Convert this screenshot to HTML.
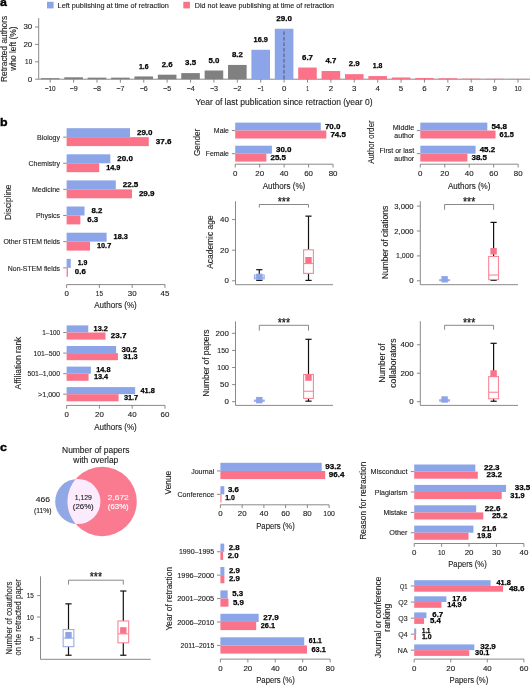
<!DOCTYPE html>
<html lang="en"><head><meta charset="utf-8"><title>Figure</title>
<style>
html,body{margin:0;padding:0;background:#fff;}
body{width:530px;height:685px;overflow:hidden;}
svg{display:block;font-family:"Liberation Sans", sans-serif;}
</style></head><body>
<svg width="530" height="685" viewBox="0 0 530 685">
<rect width="530" height="685" fill="#fff"/>
<text transform="translate(0.00 6.10) scale(1.05 1)" font-size="11.8" text-anchor="start" fill="#000" font-weight="700" stroke="#000" stroke-width="0.4">a</text>
<rect x="47.00" y="1.80" width="6.60" height="6.60" fill="#8ca5e8"/>
<text transform="translate(57.60 7.64) scale(1 1)" font-size="7.1" text-anchor="start" fill="#222" stroke="#222" stroke-width="0.12" textLength="111.3" lengthAdjust="spacingAndGlyphs">Left publishing at time of retraction</text>
<rect x="183.30" y="1.80" width="6.60" height="6.60" fill="#fa7389"/>
<text transform="translate(194.80 7.64) scale(1 1)" font-size="7.1" text-anchor="start" fill="#222" stroke="#222" stroke-width="0.12" textLength="139.2" lengthAdjust="spacingAndGlyphs">Did not leave publishing at time of retraction</text>
<line x1="38.70" y1="18.10" x2="38.70" y2="79.20" stroke="#7c7c7c" stroke-width="0.9" />
<line x1="38.70" y1="79.20" x2="530.00" y2="79.20" stroke="#7c7c7c" stroke-width="0.9" />
<line x1="35.10" y1="79.20" x2="38.70" y2="79.20" stroke="#7c7c7c" stroke-width="0.9" />
<text transform="translate(32.20 81.51) scale(1 1)" font-size="7" text-anchor="end" fill="#222" stroke="#222" stroke-width="0.12" textLength="4.4" lengthAdjust="spacingAndGlyphs">0</text>
<line x1="35.10" y1="61.80" x2="38.70" y2="61.80" stroke="#7c7c7c" stroke-width="0.9" />
<text transform="translate(32.20 64.11) scale(1 1)" font-size="7" text-anchor="end" fill="#222" stroke="#222" stroke-width="0.12" textLength="7.1" lengthAdjust="spacingAndGlyphs">10</text>
<line x1="35.10" y1="44.40" x2="38.70" y2="44.40" stroke="#7c7c7c" stroke-width="0.9" />
<text transform="translate(32.20 46.71) scale(1 1)" font-size="7" text-anchor="end" fill="#222" stroke="#222" stroke-width="0.12" textLength="8.8" lengthAdjust="spacingAndGlyphs">20</text>
<line x1="35.10" y1="27.00" x2="38.70" y2="27.00" stroke="#7c7c7c" stroke-width="0.9" />
<text transform="translate(32.20 29.31) scale(1 1)" font-size="7" text-anchor="end" fill="#222" stroke="#222" stroke-width="0.12" textLength="8.8" lengthAdjust="spacingAndGlyphs">30</text>
<text transform="translate(3.70 48.90) rotate(-90) scale(1 1)" y="3.01" font-size="8.4" text-anchor="middle" fill="#222" stroke="#222" stroke-width="0.12" textLength="66.0" lengthAdjust="spacingAndGlyphs">Retracted authors</text>
<text transform="translate(13.40 48.60) rotate(-90) scale(1 1)" y="3.01" font-size="8.4" text-anchor="middle" fill="#222" stroke="#222" stroke-width="0.12" textLength="44.4" lengthAdjust="spacingAndGlyphs">who left (%)</text>
<rect x="40.90" y="78.16" width="18.60" height="1.04" fill="#808080"/>
<line x1="50.20" y1="79.20" x2="50.20" y2="82.60" stroke="#7c7c7c" stroke-width="0.9" />
<text transform="translate(50.20 90.81) scale(1 1)" font-size="7" text-anchor="middle" fill="#222" stroke="#222" stroke-width="0.12" textLength="10.8" lengthAdjust="spacingAndGlyphs">−10</text>
<rect x="64.29" y="77.29" width="18.60" height="1.91" fill="#808080"/>
<line x1="73.59" y1="79.20" x2="73.59" y2="82.60" stroke="#7c7c7c" stroke-width="0.9" />
<text transform="translate(73.59 90.81) scale(1 1)" font-size="7" text-anchor="middle" fill="#222" stroke="#222" stroke-width="0.12" textLength="8.1" lengthAdjust="spacingAndGlyphs">−9</text>
<rect x="87.68" y="77.63" width="18.60" height="1.57" fill="#808080"/>
<line x1="96.98" y1="79.20" x2="96.98" y2="82.60" stroke="#7c7c7c" stroke-width="0.9" />
<text transform="translate(96.98 90.81) scale(1 1)" font-size="7" text-anchor="middle" fill="#222" stroke="#222" stroke-width="0.12" textLength="8.1" lengthAdjust="spacingAndGlyphs">−8</text>
<rect x="111.07" y="77.63" width="18.60" height="1.57" fill="#808080"/>
<line x1="120.37" y1="79.20" x2="120.37" y2="82.60" stroke="#7c7c7c" stroke-width="0.9" />
<text transform="translate(120.37 90.81) scale(1 1)" font-size="7" text-anchor="middle" fill="#222" stroke="#222" stroke-width="0.12" textLength="8.1" lengthAdjust="spacingAndGlyphs">−7</text>
<rect x="134.46" y="76.42" width="18.60" height="2.78" fill="#808080"/>
<line x1="143.76" y1="79.20" x2="143.76" y2="82.60" stroke="#7c7c7c" stroke-width="0.9" />
<text transform="translate(143.76 90.81) scale(1 1)" font-size="7" text-anchor="middle" fill="#222" stroke="#222" stroke-width="0.12" textLength="8.1" lengthAdjust="spacingAndGlyphs">−6</text>
<text transform="translate(143.76 68.60) scale(1 1)" font-size="7.5" text-anchor="middle" fill="#000" font-weight="700" stroke="#000" stroke-width="0.25" textLength="9.6" lengthAdjust="spacingAndGlyphs">1.6</text>
<rect x="157.85" y="74.68" width="18.60" height="4.52" fill="#808080"/>
<line x1="167.15" y1="79.20" x2="167.15" y2="82.60" stroke="#7c7c7c" stroke-width="0.9" />
<text transform="translate(167.15 90.81) scale(1 1)" font-size="7" text-anchor="middle" fill="#222" stroke="#222" stroke-width="0.12" textLength="8.1" lengthAdjust="spacingAndGlyphs">−5</text>
<text transform="translate(167.15 66.86) scale(1 1)" font-size="7.5" text-anchor="middle" fill="#000" font-weight="700" stroke="#000" stroke-width="0.25" textLength="10.9" lengthAdjust="spacingAndGlyphs">2.6</text>
<rect x="181.24" y="73.11" width="18.60" height="6.09" fill="#808080"/>
<line x1="190.54" y1="79.20" x2="190.54" y2="82.60" stroke="#7c7c7c" stroke-width="0.9" />
<text transform="translate(190.54 90.81) scale(1 1)" font-size="7" text-anchor="middle" fill="#222" stroke="#222" stroke-width="0.12" textLength="8.1" lengthAdjust="spacingAndGlyphs">−4</text>
<text transform="translate(190.54 65.30) scale(1 1)" font-size="7.5" text-anchor="middle" fill="#000" font-weight="700" stroke="#000" stroke-width="0.25" textLength="10.9" lengthAdjust="spacingAndGlyphs">3.5</text>
<rect x="204.63" y="70.50" width="18.60" height="8.70" fill="#808080"/>
<line x1="213.93" y1="79.20" x2="213.93" y2="82.60" stroke="#7c7c7c" stroke-width="0.9" />
<text transform="translate(213.93 90.81) scale(1 1)" font-size="7" text-anchor="middle" fill="#222" stroke="#222" stroke-width="0.12" textLength="8.1" lengthAdjust="spacingAndGlyphs">−3</text>
<text transform="translate(213.93 62.69) scale(1 1)" font-size="7.5" text-anchor="middle" fill="#000" font-weight="700" stroke="#000" stroke-width="0.25" textLength="10.9" lengthAdjust="spacingAndGlyphs">5.0</text>
<rect x="228.02" y="64.93" width="18.60" height="14.27" fill="#808080"/>
<line x1="237.32" y1="79.20" x2="237.32" y2="82.60" stroke="#7c7c7c" stroke-width="0.9" />
<text transform="translate(237.32 90.81) scale(1 1)" font-size="7" text-anchor="middle" fill="#222" stroke="#222" stroke-width="0.12" textLength="8.1" lengthAdjust="spacingAndGlyphs">−2</text>
<text transform="translate(237.32 57.12) scale(1 1)" font-size="7.5" text-anchor="middle" fill="#000" font-weight="700" stroke="#000" stroke-width="0.25" textLength="10.9" lengthAdjust="spacingAndGlyphs">8.2</text>
<rect x="251.41" y="49.79" width="18.60" height="29.41" fill="#8ca5e8"/>
<line x1="260.71" y1="79.20" x2="260.71" y2="82.60" stroke="#7c7c7c" stroke-width="0.9" />
<text transform="translate(260.71 90.81) scale(1 1)" font-size="7" text-anchor="middle" fill="#222" stroke="#222" stroke-width="0.12" textLength="6.4" lengthAdjust="spacingAndGlyphs">−1</text>
<text transform="translate(260.71 41.98) scale(1 1)" font-size="7.5" text-anchor="middle" fill="#000" font-weight="700" stroke="#000" stroke-width="0.25" textLength="14.3" lengthAdjust="spacingAndGlyphs">16.9</text>
<rect x="274.80" y="28.74" width="18.60" height="50.46" fill="#8ca5e8"/>
<line x1="284.10" y1="79.20" x2="284.10" y2="82.60" stroke="#7c7c7c" stroke-width="0.9" />
<text transform="translate(284.10 90.81) scale(1 1)" font-size="7" text-anchor="middle" fill="#222" stroke="#222" stroke-width="0.12" textLength="4.4" lengthAdjust="spacingAndGlyphs">0</text>
<text transform="translate(284.10 20.93) scale(1 1)" font-size="7.5" text-anchor="middle" fill="#000" font-weight="700" stroke="#000" stroke-width="0.25" textLength="15.6" lengthAdjust="spacingAndGlyphs">29.0</text>
<rect x="298.19" y="67.54" width="18.60" height="11.66" fill="#fa7389"/>
<line x1="307.49" y1="79.20" x2="307.49" y2="82.60" stroke="#7c7c7c" stroke-width="0.9" />
<text transform="translate(307.49 90.81) scale(1 1)" font-size="7" text-anchor="middle" fill="#222" stroke="#222" stroke-width="0.12" textLength="2.7" lengthAdjust="spacingAndGlyphs">1</text>
<text transform="translate(307.49 59.73) scale(1 1)" font-size="7.5" text-anchor="middle" fill="#000" font-weight="700" stroke="#000" stroke-width="0.25" textLength="10.9" lengthAdjust="spacingAndGlyphs">6.7</text>
<rect x="321.58" y="71.02" width="18.60" height="8.18" fill="#fa7389"/>
<line x1="330.88" y1="79.20" x2="330.88" y2="82.60" stroke="#7c7c7c" stroke-width="0.9" />
<text transform="translate(330.88 90.81) scale(1 1)" font-size="7" text-anchor="middle" fill="#222" stroke="#222" stroke-width="0.12" textLength="4.4" lengthAdjust="spacingAndGlyphs">2</text>
<text transform="translate(330.88 63.21) scale(1 1)" font-size="7.5" text-anchor="middle" fill="#000" font-weight="700" stroke="#000" stroke-width="0.25" textLength="10.9" lengthAdjust="spacingAndGlyphs">4.7</text>
<rect x="344.97" y="74.15" width="18.60" height="5.05" fill="#fa7389"/>
<line x1="354.27" y1="79.20" x2="354.27" y2="82.60" stroke="#7c7c7c" stroke-width="0.9" />
<text transform="translate(354.27 90.81) scale(1 1)" font-size="7" text-anchor="middle" fill="#222" stroke="#222" stroke-width="0.12" textLength="4.4" lengthAdjust="spacingAndGlyphs">3</text>
<text transform="translate(354.27 66.34) scale(1 1)" font-size="7.5" text-anchor="middle" fill="#000" font-weight="700" stroke="#000" stroke-width="0.25" textLength="10.9" lengthAdjust="spacingAndGlyphs">2.9</text>
<rect x="368.36" y="76.07" width="18.60" height="3.13" fill="#fa7389"/>
<line x1="377.66" y1="79.20" x2="377.66" y2="82.60" stroke="#7c7c7c" stroke-width="0.9" />
<text transform="translate(377.66 90.81) scale(1 1)" font-size="7" text-anchor="middle" fill="#222" stroke="#222" stroke-width="0.12" textLength="4.4" lengthAdjust="spacingAndGlyphs">4</text>
<text transform="translate(377.66 68.25) scale(1 1)" font-size="7.5" text-anchor="middle" fill="#000" font-weight="700" stroke="#000" stroke-width="0.25" textLength="9.6" lengthAdjust="spacingAndGlyphs">1.8</text>
<rect x="391.75" y="77.46" width="18.60" height="1.74" fill="#fa7389"/>
<line x1="401.05" y1="79.20" x2="401.05" y2="82.60" stroke="#7c7c7c" stroke-width="0.9" />
<text transform="translate(401.05 90.81) scale(1 1)" font-size="7" text-anchor="middle" fill="#222" stroke="#222" stroke-width="0.12" textLength="4.4" lengthAdjust="spacingAndGlyphs">5</text>
<rect x="415.14" y="77.98" width="18.60" height="1.22" fill="#fa7389"/>
<line x1="424.44" y1="79.20" x2="424.44" y2="82.60" stroke="#7c7c7c" stroke-width="0.9" />
<text transform="translate(424.44 90.81) scale(1 1)" font-size="7" text-anchor="middle" fill="#222" stroke="#222" stroke-width="0.12" textLength="4.4" lengthAdjust="spacingAndGlyphs">6</text>
<rect x="438.53" y="78.24" width="18.60" height="0.96" fill="#fa7389"/>
<line x1="447.83" y1="79.20" x2="447.83" y2="82.60" stroke="#7c7c7c" stroke-width="0.9" />
<text transform="translate(447.83 90.81) scale(1 1)" font-size="7" text-anchor="middle" fill="#222" stroke="#222" stroke-width="0.12" textLength="4.4" lengthAdjust="spacingAndGlyphs">7</text>
<rect x="461.92" y="78.68" width="18.60" height="0.52" fill="#fa7389"/>
<line x1="471.22" y1="79.20" x2="471.22" y2="82.60" stroke="#7c7c7c" stroke-width="0.9" />
<text transform="translate(471.22 90.81) scale(1 1)" font-size="7" text-anchor="middle" fill="#222" stroke="#222" stroke-width="0.12" textLength="4.4" lengthAdjust="spacingAndGlyphs">8</text>
<rect x="485.31" y="78.82" width="18.60" height="0.38" fill="#fa7389"/>
<line x1="494.61" y1="79.20" x2="494.61" y2="82.60" stroke="#7c7c7c" stroke-width="0.9" />
<text transform="translate(494.61 90.81) scale(1 1)" font-size="7" text-anchor="middle" fill="#222" stroke="#222" stroke-width="0.12" textLength="4.4" lengthAdjust="spacingAndGlyphs">9</text>
<rect x="508.70" y="78.89" width="18.60" height="0.31" fill="#fa7389"/>
<line x1="518.00" y1="79.20" x2="518.00" y2="82.60" stroke="#7c7c7c" stroke-width="0.9" />
<text transform="translate(518.00 90.81) scale(1 1)" font-size="7" text-anchor="middle" fill="#222" stroke="#222" stroke-width="0.12" textLength="7.1" lengthAdjust="spacingAndGlyphs">10</text>
<line x1="284.00" y1="31.40" x2="284.00" y2="79.20" stroke="#4d5575" stroke-width="1.0" stroke-dasharray="3.7 1.8"/>
<text transform="translate(284.10 104.54) scale(1 1)" font-size="8.5" text-anchor="middle" fill="#222" stroke="#222" stroke-width="0.12" textLength="177" lengthAdjust="spacingAndGlyphs">Year of last publication since retraction (year 0)</text>
<text transform="translate(0.00 126.00) scale(1.05 1)" font-size="11.8" text-anchor="start" fill="#000" font-weight="700" stroke="#000" stroke-width="0.4">b</text>
<rect x="66.60" y="128.20" width="63.39" height="8.95" fill="#8ca5e8"/>
<rect x="66.60" y="137.15" width="82.19" height="8.95" fill="#fa7389"/>
<line x1="63.20" y1="137.15" x2="66.60" y2="137.15" stroke="#7c7c7c" stroke-width="0.9" />
<text transform="translate(136.95 134.66) scale(1 1)" font-size="7.5" text-anchor="start" fill="#000" font-weight="700" stroke="#000" stroke-width="0.25" textLength="15.6" lengthAdjust="spacingAndGlyphs">29.0</text>
<text transform="translate(155.75 143.61) scale(1 1)" font-size="7.5" text-anchor="start" fill="#000" font-weight="700" stroke="#000" stroke-width="0.25" textLength="15.6" lengthAdjust="spacingAndGlyphs">37.6</text>
<text transform="translate(60.00 139.86) scale(1 1)" font-size="7" text-anchor="end" fill="#222" stroke="#222" stroke-width="0.12">Biology</text>
<rect x="66.60" y="154.30" width="43.72" height="8.95" fill="#8ca5e8"/>
<rect x="66.60" y="163.25" width="32.57" height="8.95" fill="#fa7389"/>
<line x1="63.20" y1="163.25" x2="66.60" y2="163.25" stroke="#7c7c7c" stroke-width="0.9" />
<text transform="translate(117.28 160.76) scale(1 1)" font-size="7.5" text-anchor="start" fill="#000" font-weight="700" stroke="#000" stroke-width="0.25" textLength="15.6" lengthAdjust="spacingAndGlyphs">20.0</text>
<text transform="translate(106.13 169.71) scale(1 1)" font-size="7.5" text-anchor="start" fill="#000" font-weight="700" stroke="#000" stroke-width="0.25" textLength="14.3" lengthAdjust="spacingAndGlyphs">14.9</text>
<text transform="translate(60.00 165.96) scale(1 1)" font-size="7" text-anchor="end" fill="#222" stroke="#222" stroke-width="0.12">Chemistry</text>
<rect x="66.60" y="180.40" width="49.19" height="8.95" fill="#8ca5e8"/>
<rect x="66.60" y="189.35" width="65.36" height="8.95" fill="#fa7389"/>
<line x1="63.20" y1="189.35" x2="66.60" y2="189.35" stroke="#7c7c7c" stroke-width="0.9" />
<text transform="translate(122.74 186.86) scale(1 1)" font-size="7.5" text-anchor="start" fill="#000" font-weight="700" stroke="#000" stroke-width="0.25" textLength="15.6" lengthAdjust="spacingAndGlyphs">22.5</text>
<text transform="translate(138.92 195.81) scale(1 1)" font-size="7.5" text-anchor="start" fill="#000" font-weight="700" stroke="#000" stroke-width="0.25" textLength="15.6" lengthAdjust="spacingAndGlyphs">29.9</text>
<text transform="translate(60.00 192.06) scale(1 1)" font-size="7" text-anchor="end" fill="#222" stroke="#222" stroke-width="0.12">Medicine</text>
<rect x="66.60" y="206.50" width="17.93" height="8.95" fill="#8ca5e8"/>
<rect x="66.60" y="215.45" width="13.77" height="8.95" fill="#fa7389"/>
<line x1="63.20" y1="215.45" x2="66.60" y2="215.45" stroke="#7c7c7c" stroke-width="0.9" />
<text transform="translate(91.48 212.96) scale(1 1)" font-size="7.5" text-anchor="start" fill="#000" font-weight="700" stroke="#000" stroke-width="0.25" textLength="10.9" lengthAdjust="spacingAndGlyphs">8.2</text>
<text transform="translate(87.33 221.91) scale(1 1)" font-size="7.5" text-anchor="start" fill="#000" font-weight="700" stroke="#000" stroke-width="0.25" textLength="10.9" lengthAdjust="spacingAndGlyphs">6.3</text>
<text transform="translate(60.00 218.16) scale(1 1)" font-size="7" text-anchor="end" fill="#222" stroke="#222" stroke-width="0.12">Physics</text>
<rect x="66.60" y="232.70" width="40.00" height="8.95" fill="#8ca5e8"/>
<rect x="66.60" y="241.65" width="23.39" height="8.95" fill="#fa7389"/>
<line x1="63.20" y1="241.65" x2="66.60" y2="241.65" stroke="#7c7c7c" stroke-width="0.9" />
<text transform="translate(113.56 239.16) scale(1 1)" font-size="7.5" text-anchor="start" fill="#000" font-weight="700" stroke="#000" stroke-width="0.25" textLength="14.3" lengthAdjust="spacingAndGlyphs">18.3</text>
<text transform="translate(96.95 248.11) scale(1 1)" font-size="7.5" text-anchor="start" fill="#000" font-weight="700" stroke="#000" stroke-width="0.25" textLength="14.3" lengthAdjust="spacingAndGlyphs">10.7</text>
<text transform="translate(60.00 244.36) scale(1 1)" font-size="7" text-anchor="end" fill="#222" stroke="#222" stroke-width="0.12" textLength="56.6" lengthAdjust="spacingAndGlyphs">Other STEM fields</text>
<rect x="66.60" y="258.90" width="4.15" height="8.95" fill="#8ca5e8"/>
<rect x="66.60" y="267.85" width="1.31" height="8.95" fill="#fa7389"/>
<line x1="63.20" y1="267.85" x2="66.60" y2="267.85" stroke="#7c7c7c" stroke-width="0.9" />
<text transform="translate(77.71 265.36) scale(1 1)" font-size="7.5" text-anchor="start" fill="#000" font-weight="700" stroke="#000" stroke-width="0.25" textLength="9.6" lengthAdjust="spacingAndGlyphs">1.9</text>
<text transform="translate(74.87 274.31) scale(1 1)" font-size="7.5" text-anchor="start" fill="#000" font-weight="700" stroke="#000" stroke-width="0.25" textLength="10.9" lengthAdjust="spacingAndGlyphs">0.6</text>
<text transform="translate(60.00 270.56) scale(1 1)" font-size="7" text-anchor="end" fill="#222" stroke="#222" stroke-width="0.12" textLength="52.2" lengthAdjust="spacingAndGlyphs">Non-STEM fields</text>
<line x1="66.60" y1="284.60" x2="164.97" y2="284.60" stroke="#7c7c7c" stroke-width="0.9" />
<line x1="66.60" y1="284.60" x2="66.60" y2="287.90" stroke="#7c7c7c" stroke-width="0.9" />
<text transform="translate(66.60 296.31) scale(1 1)" font-size="7" text-anchor="middle" fill="#222" stroke="#222" stroke-width="0.12" textLength="4.4" lengthAdjust="spacingAndGlyphs">0</text>
<line x1="99.39" y1="284.60" x2="99.39" y2="287.90" stroke="#7c7c7c" stroke-width="0.9" />
<text transform="translate(99.39 296.31) scale(1 1)" font-size="7" text-anchor="middle" fill="#222" stroke="#222" stroke-width="0.12" textLength="7.1" lengthAdjust="spacingAndGlyphs">15</text>
<line x1="132.18" y1="284.60" x2="132.18" y2="287.90" stroke="#7c7c7c" stroke-width="0.9" />
<text transform="translate(132.18 296.31) scale(1 1)" font-size="7" text-anchor="middle" fill="#222" stroke="#222" stroke-width="0.12" textLength="8.8" lengthAdjust="spacingAndGlyphs">30</text>
<line x1="164.97" y1="284.60" x2="164.97" y2="287.90" stroke="#7c7c7c" stroke-width="0.9" />
<text transform="translate(164.97 296.31) scale(1 1)" font-size="7" text-anchor="middle" fill="#222" stroke="#222" stroke-width="0.12" textLength="8.8" lengthAdjust="spacingAndGlyphs">45</text>
<text transform="translate(115.50 308.14) scale(1 1)" font-size="8.5" text-anchor="middle" fill="#222" stroke="#222" stroke-width="0.12" textLength="42.5" lengthAdjust="spacingAndGlyphs">Authors (%)</text>
<text transform="translate(8.00 202.30) rotate(-90) scale(1 1)" y="3.01" font-size="8.4" text-anchor="middle" fill="#222" stroke="#222" stroke-width="0.12" textLength="35.5" lengthAdjust="spacingAndGlyphs">Discipline</text>
<rect x="66.60" y="325.40" width="21.65" height="7.10" fill="#8ca5e8"/>
<rect x="66.60" y="332.50" width="38.87" height="7.10" fill="#fa7389"/>
<line x1="63.20" y1="332.50" x2="66.60" y2="332.50" stroke="#7c7c7c" stroke-width="0.9" />
<text transform="translate(93.57 330.94) scale(1 1)" font-size="7.5" text-anchor="start" fill="#000" font-weight="700" stroke="#000" stroke-width="0.25" textLength="14.3" lengthAdjust="spacingAndGlyphs">13.2</text>
<text transform="translate(110.79 338.03) scale(1 1)" font-size="7.5" text-anchor="start" fill="#000" font-weight="700" stroke="#000" stroke-width="0.25" textLength="15.6" lengthAdjust="spacingAndGlyphs">23.7</text>
<text transform="translate(60.00 335.21) scale(1 1)" font-size="7" text-anchor="end" fill="#222" stroke="#222" stroke-width="0.12" textLength="17.7" lengthAdjust="spacingAndGlyphs">1–100</text>
<rect x="66.60" y="346.00" width="49.53" height="7.10" fill="#8ca5e8"/>
<rect x="66.60" y="353.10" width="51.33" height="7.10" fill="#fa7389"/>
<line x1="63.20" y1="353.10" x2="66.60" y2="353.10" stroke="#7c7c7c" stroke-width="0.9" />
<text transform="translate(121.45 351.54) scale(1 1)" font-size="7.5" text-anchor="start" fill="#000" font-weight="700" stroke="#000" stroke-width="0.25" textLength="15.6" lengthAdjust="spacingAndGlyphs">30.2</text>
<text transform="translate(123.25 358.63) scale(1 1)" font-size="7.5" text-anchor="start" fill="#000" font-weight="700" stroke="#000" stroke-width="0.25" textLength="14.3" lengthAdjust="spacingAndGlyphs">31.3</text>
<text transform="translate(60.00 355.81) scale(1 1)" font-size="7" text-anchor="end" fill="#222" stroke="#222" stroke-width="0.12" textLength="26.5" lengthAdjust="spacingAndGlyphs">101–500</text>
<rect x="66.60" y="366.60" width="24.27" height="7.10" fill="#8ca5e8"/>
<rect x="66.60" y="373.70" width="21.98" height="7.10" fill="#fa7389"/>
<line x1="63.20" y1="373.70" x2="66.60" y2="373.70" stroke="#7c7c7c" stroke-width="0.9" />
<text transform="translate(96.19 372.14) scale(1 1)" font-size="7.5" text-anchor="start" fill="#000" font-weight="700" stroke="#000" stroke-width="0.25" textLength="14.3" lengthAdjust="spacingAndGlyphs">14.8</text>
<text transform="translate(93.90 379.24) scale(1 1)" font-size="7.5" text-anchor="start" fill="#000" font-weight="700" stroke="#000" stroke-width="0.25" textLength="14.3" lengthAdjust="spacingAndGlyphs">13.4</text>
<text transform="translate(60.00 376.41) scale(1 1)" font-size="7" text-anchor="end" fill="#222" stroke="#222" stroke-width="0.12" textLength="32.6" lengthAdjust="spacingAndGlyphs">501–1,000</text>
<rect x="66.60" y="387.10" width="68.55" height="7.10" fill="#8ca5e8"/>
<rect x="66.60" y="394.20" width="51.99" height="7.10" fill="#fa7389"/>
<line x1="63.20" y1="394.20" x2="66.60" y2="394.20" stroke="#7c7c7c" stroke-width="0.9" />
<text transform="translate(140.47 392.64) scale(1 1)" font-size="7.5" text-anchor="start" fill="#000" font-weight="700" stroke="#000" stroke-width="0.25" textLength="14.3" lengthAdjust="spacingAndGlyphs">41.8</text>
<text transform="translate(123.91 399.74) scale(1 1)" font-size="7.5" text-anchor="start" fill="#000" font-weight="700" stroke="#000" stroke-width="0.25" textLength="14.3" lengthAdjust="spacingAndGlyphs">31.7</text>
<text transform="translate(60.00 396.91) scale(1 1)" font-size="7" text-anchor="end" fill="#222" stroke="#222" stroke-width="0.12" textLength="21.9" lengthAdjust="spacingAndGlyphs">&gt;1,000</text>
<line x1="66.60" y1="405.40" x2="165.00" y2="405.40" stroke="#7c7c7c" stroke-width="0.9" />
<line x1="66.60" y1="405.40" x2="66.60" y2="408.70" stroke="#7c7c7c" stroke-width="0.9" />
<text transform="translate(66.60 416.91) scale(1 1)" font-size="7" text-anchor="middle" fill="#222" stroke="#222" stroke-width="0.12" textLength="4.4" lengthAdjust="spacingAndGlyphs">0</text>
<line x1="99.40" y1="405.40" x2="99.40" y2="408.70" stroke="#7c7c7c" stroke-width="0.9" />
<text transform="translate(99.40 416.91) scale(1 1)" font-size="7" text-anchor="middle" fill="#222" stroke="#222" stroke-width="0.12" textLength="8.8" lengthAdjust="spacingAndGlyphs">20</text>
<line x1="132.20" y1="405.40" x2="132.20" y2="408.70" stroke="#7c7c7c" stroke-width="0.9" />
<text transform="translate(132.20 416.91) scale(1 1)" font-size="7" text-anchor="middle" fill="#222" stroke="#222" stroke-width="0.12" textLength="8.8" lengthAdjust="spacingAndGlyphs">40</text>
<line x1="165.00" y1="405.40" x2="165.00" y2="408.70" stroke="#7c7c7c" stroke-width="0.9" />
<text transform="translate(165.00 416.91) scale(1 1)" font-size="7" text-anchor="middle" fill="#222" stroke="#222" stroke-width="0.12" textLength="8.8" lengthAdjust="spacingAndGlyphs">60</text>
<text transform="translate(115.50 429.54) scale(1 1)" font-size="8.5" text-anchor="middle" fill="#222" stroke="#222" stroke-width="0.12" textLength="42.5" lengthAdjust="spacingAndGlyphs">Authors (%)</text>
<text transform="translate(18.40 363.10) rotate(-90) scale(1 1)" y="3.01" font-size="8.4" text-anchor="middle" fill="#222" stroke="#222" stroke-width="0.12" textLength="52.8" lengthAdjust="spacingAndGlyphs">Affiliation rank</text>
<rect x="235.20" y="122.60" width="85.61" height="7.95" fill="#8ca5e8"/>
<rect x="235.20" y="130.55" width="91.11" height="7.95" fill="#fa7389"/>
<line x1="231.80" y1="130.55" x2="235.20" y2="130.55" stroke="#7c7c7c" stroke-width="0.9" />
<text transform="translate(324.88 128.56) scale(1 1)" font-size="7.5" text-anchor="start" fill="#000" font-weight="700" stroke="#000" stroke-width="0.25" textLength="15.6" lengthAdjust="spacingAndGlyphs">70.0</text>
<text transform="translate(330.38 136.51) scale(1 1)" font-size="7.5" text-anchor="start" fill="#000" font-weight="700" stroke="#000" stroke-width="0.25" textLength="15.6" lengthAdjust="spacingAndGlyphs">74.5</text>
<text transform="translate(229.00 133.26) scale(1 1)" font-size="7" text-anchor="end" fill="#222" stroke="#222" stroke-width="0.12">Male</text>
<rect x="235.20" y="145.70" width="36.69" height="7.95" fill="#8ca5e8"/>
<rect x="235.20" y="153.65" width="31.19" height="7.95" fill="#fa7389"/>
<line x1="231.80" y1="153.65" x2="235.20" y2="153.65" stroke="#7c7c7c" stroke-width="0.9" />
<text transform="translate(275.96 151.66) scale(1 1)" font-size="7.5" text-anchor="start" fill="#000" font-weight="700" stroke="#000" stroke-width="0.25" textLength="15.6" lengthAdjust="spacingAndGlyphs">30.0</text>
<text transform="translate(270.46 159.61) scale(1 1)" font-size="7.5" text-anchor="start" fill="#000" font-weight="700" stroke="#000" stroke-width="0.25" textLength="15.6" lengthAdjust="spacingAndGlyphs">25.5</text>
<text transform="translate(229.00 156.36) scale(1 1)" font-size="7" text-anchor="end" fill="#222" stroke="#222" stroke-width="0.12">Female</text>
<line x1="235.20" y1="164.20" x2="333.04" y2="164.20" stroke="#7c7c7c" stroke-width="0.9" />
<line x1="235.20" y1="164.20" x2="235.20" y2="167.50" stroke="#7c7c7c" stroke-width="0.9" />
<text transform="translate(235.20 175.81) scale(1 1)" font-size="7" text-anchor="middle" fill="#222" stroke="#222" stroke-width="0.12" textLength="4.4" lengthAdjust="spacingAndGlyphs">0</text>
<line x1="259.66" y1="164.20" x2="259.66" y2="167.50" stroke="#7c7c7c" stroke-width="0.9" />
<text transform="translate(259.66 175.81) scale(1 1)" font-size="7" text-anchor="middle" fill="#222" stroke="#222" stroke-width="0.12" textLength="8.8" lengthAdjust="spacingAndGlyphs">20</text>
<line x1="284.12" y1="164.20" x2="284.12" y2="167.50" stroke="#7c7c7c" stroke-width="0.9" />
<text transform="translate(284.12 175.81) scale(1 1)" font-size="7" text-anchor="middle" fill="#222" stroke="#222" stroke-width="0.12" textLength="8.8" lengthAdjust="spacingAndGlyphs">40</text>
<line x1="308.58" y1="164.20" x2="308.58" y2="167.50" stroke="#7c7c7c" stroke-width="0.9" />
<text transform="translate(308.58 175.81) scale(1 1)" font-size="7" text-anchor="middle" fill="#222" stroke="#222" stroke-width="0.12" textLength="8.8" lengthAdjust="spacingAndGlyphs">60</text>
<line x1="333.04" y1="164.20" x2="333.04" y2="167.50" stroke="#7c7c7c" stroke-width="0.9" />
<text transform="translate(333.04 175.81) scale(1 1)" font-size="7" text-anchor="middle" fill="#222" stroke="#222" stroke-width="0.12" textLength="8.8" lengthAdjust="spacingAndGlyphs">80</text>
<text transform="translate(284.00 188.64) scale(1 1)" font-size="8.5" text-anchor="middle" fill="#222" stroke="#222" stroke-width="0.12" textLength="42.5" lengthAdjust="spacingAndGlyphs">Authors (%)</text>
<text transform="translate(197.10 142.40) rotate(-90) scale(1 1)" y="3.01" font-size="8.4" text-anchor="middle" fill="#222" stroke="#222" stroke-width="0.12" textLength="27.3" lengthAdjust="spacingAndGlyphs">Gender</text>
<rect x="420.30" y="122.60" width="67.02" height="7.95" fill="#8ca5e8"/>
<rect x="420.30" y="130.55" width="75.21" height="7.95" fill="#fa7389"/>
<line x1="416.90" y1="130.55" x2="420.30" y2="130.55" stroke="#7c7c7c" stroke-width="0.9" />
<text transform="translate(491.39 128.56) scale(1 1)" font-size="7.5" text-anchor="start" fill="#000" font-weight="700" stroke="#000" stroke-width="0.25" textLength="15.6" lengthAdjust="spacingAndGlyphs">54.8</text>
<text transform="translate(499.58 136.51) scale(1 1)" font-size="7.5" text-anchor="start" fill="#000" font-weight="700" stroke="#000" stroke-width="0.25" textLength="14.3" lengthAdjust="spacingAndGlyphs">61.5</text>
<text transform="translate(414.20 129.96) scale(1 1)" font-size="7" text-anchor="end" fill="#222" stroke="#222" stroke-width="0.12" textLength="21.4" lengthAdjust="spacingAndGlyphs">Middle</text>
<text transform="translate(414.20 138.16) scale(1 1)" font-size="7" text-anchor="end" fill="#222" stroke="#222" stroke-width="0.12">author</text>
<rect x="420.30" y="145.70" width="55.28" height="7.95" fill="#8ca5e8"/>
<rect x="420.30" y="153.65" width="47.09" height="7.95" fill="#fa7389"/>
<line x1="416.90" y1="153.65" x2="420.30" y2="153.65" stroke="#7c7c7c" stroke-width="0.9" />
<text transform="translate(479.65 151.66) scale(1 1)" font-size="7.5" text-anchor="start" fill="#000" font-weight="700" stroke="#000" stroke-width="0.25" textLength="15.6" lengthAdjust="spacingAndGlyphs">45.2</text>
<text transform="translate(471.45 159.61) scale(1 1)" font-size="7.5" text-anchor="start" fill="#000" font-weight="700" stroke="#000" stroke-width="0.25" textLength="15.6" lengthAdjust="spacingAndGlyphs">38.5</text>
<text transform="translate(414.20 153.06) scale(1 1)" font-size="7" text-anchor="end" fill="#222" stroke="#222" stroke-width="0.12">First or last</text>
<text transform="translate(414.20 161.26) scale(1 1)" font-size="7" text-anchor="end" fill="#222" stroke="#222" stroke-width="0.12">author</text>
<line x1="420.30" y1="164.20" x2="518.14" y2="164.20" stroke="#7c7c7c" stroke-width="0.9" />
<line x1="420.30" y1="164.20" x2="420.30" y2="167.50" stroke="#7c7c7c" stroke-width="0.9" />
<text transform="translate(420.30 175.81) scale(1 1)" font-size="7" text-anchor="middle" fill="#222" stroke="#222" stroke-width="0.12" textLength="4.4" lengthAdjust="spacingAndGlyphs">0</text>
<line x1="444.76" y1="164.20" x2="444.76" y2="167.50" stroke="#7c7c7c" stroke-width="0.9" />
<text transform="translate(444.76 175.81) scale(1 1)" font-size="7" text-anchor="middle" fill="#222" stroke="#222" stroke-width="0.12" textLength="8.8" lengthAdjust="spacingAndGlyphs">20</text>
<line x1="469.22" y1="164.20" x2="469.22" y2="167.50" stroke="#7c7c7c" stroke-width="0.9" />
<text transform="translate(469.22 175.81) scale(1 1)" font-size="7" text-anchor="middle" fill="#222" stroke="#222" stroke-width="0.12" textLength="8.8" lengthAdjust="spacingAndGlyphs">40</text>
<line x1="493.68" y1="164.20" x2="493.68" y2="167.50" stroke="#7c7c7c" stroke-width="0.9" />
<text transform="translate(493.68 175.81) scale(1 1)" font-size="7" text-anchor="middle" fill="#222" stroke="#222" stroke-width="0.12" textLength="8.8" lengthAdjust="spacingAndGlyphs">60</text>
<line x1="518.14" y1="164.20" x2="518.14" y2="167.50" stroke="#7c7c7c" stroke-width="0.9" />
<text transform="translate(518.14 175.81) scale(1 1)" font-size="7" text-anchor="middle" fill="#222" stroke="#222" stroke-width="0.12" textLength="8.8" lengthAdjust="spacingAndGlyphs">80</text>
<text transform="translate(469.20 188.64) scale(1 1)" font-size="8.5" text-anchor="middle" fill="#222" stroke="#222" stroke-width="0.12" textLength="42.5" lengthAdjust="spacingAndGlyphs">Authors (%)</text>
<text transform="translate(371.20 142.10) rotate(-90) scale(1 1)" y="3.01" font-size="8.4" text-anchor="middle" fill="#222" stroke="#222" stroke-width="0.12" textLength="43.3" lengthAdjust="spacingAndGlyphs">Author order</text>
<line x1="235.50" y1="201.20" x2="235.50" y2="284.70" stroke="#7c7c7c" stroke-width="0.9" />
<line x1="235.50" y1="284.70" x2="333.00" y2="284.70" stroke="#7c7c7c" stroke-width="0.9" />
<line x1="232.10" y1="280.80" x2="235.50" y2="280.80" stroke="#7c7c7c" stroke-width="0.9" />
<text transform="translate(228.80 283.31) scale(1 1)" font-size="7" text-anchor="end" fill="#222" stroke="#222" stroke-width="0.12" textLength="4.4" lengthAdjust="spacingAndGlyphs">0</text>
<line x1="232.10" y1="250.20" x2="235.50" y2="250.20" stroke="#7c7c7c" stroke-width="0.9" />
<text transform="translate(228.80 252.71) scale(1 1)" font-size="7" text-anchor="end" fill="#222" stroke="#222" stroke-width="0.12" textLength="8.8" lengthAdjust="spacingAndGlyphs">20</text>
<line x1="232.10" y1="219.60" x2="235.50" y2="219.60" stroke="#7c7c7c" stroke-width="0.9" />
<text transform="translate(228.80 222.11) scale(1 1)" font-size="7" text-anchor="end" fill="#222" stroke="#222" stroke-width="0.12" textLength="8.8" lengthAdjust="spacingAndGlyphs">40</text>
<path d="M259.30 207.60V204.50H308.50V207.60" fill="none" stroke="#6a6a6a" stroke-width="0.8"/>
<text transform="translate(283.90 205.90) scale(0.88 1)" font-size="12" text-anchor="middle" fill="#111" stroke="#111" stroke-width="0.2">***</text>
<line x1="259.30" y1="269.69" x2="259.30" y2="275.04" stroke="#111" stroke-width="1.2" />
<line x1="256.20" y1="269.69" x2="262.40" y2="269.69" stroke="#111" stroke-width="1.2" />
<line x1="259.30" y1="278.87" x2="259.30" y2="280.40" stroke="#111" stroke-width="1.2" />
<line x1="256.20" y1="280.40" x2="262.40" y2="280.40" stroke="#111" stroke-width="1.2" />
<rect x="254.40" y="275.04" width="9.80" height="3.83" fill="#fff" stroke="#9aade9" stroke-width="1.1"/>
<line x1="254.40" y1="277.34" x2="264.20" y2="277.34" stroke="#9aade9" stroke-width="1.1" />
<rect x="256.10" y="273.68" width="6.40" height="6.40" fill="#8ca5e8"/>
<line x1="308.50" y1="216.14" x2="308.50" y2="249.80" stroke="#111" stroke-width="1.2" />
<line x1="305.40" y1="216.14" x2="311.60" y2="216.14" stroke="#111" stroke-width="1.2" />
<line x1="308.50" y1="273.36" x2="308.50" y2="280.40" stroke="#111" stroke-width="1.2" />
<line x1="305.40" y1="280.40" x2="311.60" y2="280.40" stroke="#111" stroke-width="1.2" />
<rect x="303.60" y="249.80" width="9.80" height="23.56" fill="#fff" stroke="#f98699" stroke-width="1.1"/>
<line x1="303.60" y1="263.57" x2="313.40" y2="263.57" stroke="#f98699" stroke-width="1.1" />
<rect x="305.30" y="257.00" width="6.40" height="6.40" fill="#fa7389"/>
<text transform="translate(209.60 242.10) rotate(-90) scale(1 1)" y="3.01" font-size="8.4" text-anchor="middle" fill="#222" stroke="#222" stroke-width="0.12" textLength="53.3" lengthAdjust="spacingAndGlyphs">Academic age</text>
<line x1="420.30" y1="201.20" x2="420.30" y2="284.70" stroke="#7c7c7c" stroke-width="0.9" />
<line x1="420.30" y1="284.70" x2="518.00" y2="284.70" stroke="#7c7c7c" stroke-width="0.9" />
<line x1="416.90" y1="280.80" x2="420.30" y2="280.80" stroke="#7c7c7c" stroke-width="0.9" />
<text transform="translate(413.60 283.31) scale(1 1)" font-size="7" text-anchor="end" fill="#222" stroke="#222" stroke-width="0.12" textLength="4.4" lengthAdjust="spacingAndGlyphs">0</text>
<line x1="416.90" y1="255.90" x2="420.30" y2="255.90" stroke="#7c7c7c" stroke-width="0.9" />
<text transform="translate(413.60 258.41) scale(1 1)" font-size="7" text-anchor="end" fill="#222" stroke="#222" stroke-width="0.12" textLength="17.6" lengthAdjust="spacingAndGlyphs">1,000</text>
<line x1="416.90" y1="231.00" x2="420.30" y2="231.00" stroke="#7c7c7c" stroke-width="0.9" />
<text transform="translate(413.60 233.51) scale(1 1)" font-size="7" text-anchor="end" fill="#222" stroke="#222" stroke-width="0.12" textLength="19.3" lengthAdjust="spacingAndGlyphs">2,000</text>
<line x1="416.90" y1="206.10" x2="420.30" y2="206.10" stroke="#7c7c7c" stroke-width="0.9" />
<text transform="translate(413.60 208.61) scale(1 1)" font-size="7" text-anchor="end" fill="#222" stroke="#222" stroke-width="0.12" textLength="19.3" lengthAdjust="spacingAndGlyphs">3,000</text>
<path d="M444.60 209.80V204.50H493.60V209.80" fill="none" stroke="#6a6a6a" stroke-width="0.8"/>
<text transform="translate(469.10 205.90) scale(0.88 1)" font-size="12" text-anchor="middle" fill="#111" stroke="#111" stroke-width="0.2">***</text>
<rect x="439.70" y="279.78" width="9.80" height="0.80" fill="#fff" stroke="#9aade9" stroke-width="1.1"/>
<line x1="439.70" y1="280.20" x2="449.50" y2="280.20" stroke="#9aade9" stroke-width="1.1" />
<rect x="441.40" y="276.08" width="6.40" height="6.40" fill="#8ca5e8"/>
<line x1="493.60" y1="222.38" x2="493.60" y2="256.50" stroke="#111" stroke-width="1.2" />
<line x1="490.50" y1="222.38" x2="496.70" y2="222.38" stroke="#111" stroke-width="1.2" />
<line x1="493.60" y1="279.65" x2="493.60" y2="280.35" stroke="#111" stroke-width="1.2" />
<line x1="490.50" y1="280.35" x2="496.70" y2="280.35" stroke="#111" stroke-width="1.2" />
<rect x="488.70" y="256.50" width="9.80" height="23.16" fill="#fff" stroke="#f98699" stroke-width="1.1"/>
<line x1="488.70" y1="275.05" x2="498.50" y2="275.05" stroke="#f98699" stroke-width="1.1" />
<rect x="490.40" y="248.07" width="6.40" height="6.40" fill="#fa7389"/>
<text transform="translate(384.90 242.50) rotate(-90) scale(1 1)" y="3.01" font-size="8.4" text-anchor="middle" fill="#222" stroke="#222" stroke-width="0.12" textLength="73.4" lengthAdjust="spacingAndGlyphs">Number of citations</text>
<line x1="235.50" y1="321.40" x2="235.50" y2="405.40" stroke="#7c7c7c" stroke-width="0.9" />
<line x1="235.50" y1="405.40" x2="333.00" y2="405.40" stroke="#7c7c7c" stroke-width="0.9" />
<line x1="232.10" y1="401.70" x2="235.50" y2="401.70" stroke="#7c7c7c" stroke-width="0.9" />
<text transform="translate(228.80 404.21) scale(1 1)" font-size="7" text-anchor="end" fill="#222" stroke="#222" stroke-width="0.12" textLength="4.4" lengthAdjust="spacingAndGlyphs">0</text>
<line x1="232.10" y1="384.61" x2="235.50" y2="384.61" stroke="#7c7c7c" stroke-width="0.9" />
<text transform="translate(228.80 387.12) scale(1 1)" font-size="7" text-anchor="end" fill="#222" stroke="#222" stroke-width="0.12" textLength="8.8" lengthAdjust="spacingAndGlyphs">50</text>
<line x1="232.10" y1="367.52" x2="235.50" y2="367.52" stroke="#7c7c7c" stroke-width="0.9" />
<text transform="translate(228.80 370.03) scale(1 1)" font-size="7" text-anchor="end" fill="#222" stroke="#222" stroke-width="0.12" textLength="11.5" lengthAdjust="spacingAndGlyphs">100</text>
<line x1="232.10" y1="350.43" x2="235.50" y2="350.43" stroke="#7c7c7c" stroke-width="0.9" />
<text transform="translate(228.80 352.94) scale(1 1)" font-size="7" text-anchor="end" fill="#222" stroke="#222" stroke-width="0.12" textLength="11.5" lengthAdjust="spacingAndGlyphs">150</text>
<line x1="232.10" y1="333.34" x2="235.50" y2="333.34" stroke="#7c7c7c" stroke-width="0.9" />
<text transform="translate(228.80 335.85) scale(1 1)" font-size="7" text-anchor="end" fill="#222" stroke="#222" stroke-width="0.12" textLength="13.2" lengthAdjust="spacingAndGlyphs">200</text>
<path d="M259.30 330.60V325.30H308.50V330.60" fill="none" stroke="#6a6a6a" stroke-width="0.8"/>
<text transform="translate(283.90 326.60) scale(0.88 1)" font-size="12" text-anchor="middle" fill="#111" stroke="#111" stroke-width="0.2">***</text>
<rect x="254.40" y="400.13" width="9.80" height="1.03" fill="#fff" stroke="#9aade9" stroke-width="1.1"/>
<line x1="254.40" y1="400.82" x2="264.20" y2="400.82" stroke="#9aade9" stroke-width="1.1" />
<rect x="256.10" y="396.93" width="6.40" height="6.40" fill="#8ca5e8"/>
<line x1="308.50" y1="339.29" x2="308.50" y2="374.50" stroke="#111" stroke-width="1.2" />
<line x1="305.40" y1="339.29" x2="311.60" y2="339.29" stroke="#111" stroke-width="1.2" />
<line x1="308.50" y1="398.42" x2="308.50" y2="401.16" stroke="#111" stroke-width="1.2" />
<line x1="305.40" y1="401.16" x2="311.60" y2="401.16" stroke="#111" stroke-width="1.2" />
<rect x="303.60" y="374.50" width="9.80" height="23.93" fill="#fff" stroke="#f98699" stroke-width="1.1"/>
<line x1="303.60" y1="391.25" x2="313.40" y2="391.25" stroke="#f98699" stroke-width="1.1" />
<rect x="305.30" y="374.37" width="6.40" height="6.40" fill="#fa7389"/>
<text transform="translate(205.50 363.10) rotate(-90) scale(1 1)" y="3.01" font-size="8.4" text-anchor="middle" fill="#222" stroke="#222" stroke-width="0.12" textLength="67.2" lengthAdjust="spacingAndGlyphs">Number of papers</text>
<line x1="420.30" y1="321.20" x2="420.30" y2="405.40" stroke="#7c7c7c" stroke-width="0.9" />
<line x1="420.30" y1="405.40" x2="518.00" y2="405.40" stroke="#7c7c7c" stroke-width="0.9" />
<line x1="416.90" y1="401.70" x2="420.30" y2="401.70" stroke="#7c7c7c" stroke-width="0.9" />
<text transform="translate(413.60 404.21) scale(1 1)" font-size="7" text-anchor="end" fill="#222" stroke="#222" stroke-width="0.12" textLength="4.4" lengthAdjust="spacingAndGlyphs">0</text>
<line x1="416.90" y1="373.24" x2="420.30" y2="373.24" stroke="#7c7c7c" stroke-width="0.9" />
<text transform="translate(413.60 375.75) scale(1 1)" font-size="7" text-anchor="end" fill="#222" stroke="#222" stroke-width="0.12" textLength="13.2" lengthAdjust="spacingAndGlyphs">200</text>
<line x1="416.90" y1="344.78" x2="420.30" y2="344.78" stroke="#7c7c7c" stroke-width="0.9" />
<text transform="translate(413.60 347.29) scale(1 1)" font-size="7" text-anchor="end" fill="#222" stroke="#222" stroke-width="0.12" textLength="13.2" lengthAdjust="spacingAndGlyphs">400</text>
<path d="M444.60 329.70V325.30H493.60V329.70" fill="none" stroke="#6a6a6a" stroke-width="0.8"/>
<text transform="translate(469.10 326.60) scale(0.88 1)" font-size="12" text-anchor="middle" fill="#111" stroke="#111" stroke-width="0.2">***</text>
<rect x="439.70" y="399.79" width="9.80" height="1.28" fill="#fff" stroke="#9aade9" stroke-width="1.1"/>
<line x1="439.70" y1="400.65" x2="449.50" y2="400.65" stroke="#9aade9" stroke-width="1.1" />
<rect x="441.40" y="396.31" width="6.40" height="6.40" fill="#8ca5e8"/>
<line x1="493.60" y1="343.30" x2="493.60" y2="376.60" stroke="#111" stroke-width="1.2" />
<line x1="490.50" y1="343.30" x2="496.70" y2="343.30" stroke="#111" stroke-width="1.2" />
<line x1="493.60" y1="398.80" x2="493.60" y2="401.22" stroke="#111" stroke-width="1.2" />
<line x1="490.50" y1="401.22" x2="496.70" y2="401.22" stroke="#111" stroke-width="1.2" />
<rect x="488.70" y="376.60" width="9.80" height="22.20" fill="#fff" stroke="#f98699" stroke-width="1.1"/>
<line x1="488.70" y1="392.25" x2="498.50" y2="392.25" stroke="#f98699" stroke-width="1.1" />
<rect x="490.40" y="370.27" width="6.40" height="6.40" fill="#fa7389"/>
<text transform="translate(382.40 363.10) rotate(-90) scale(1 1)" y="3.01" font-size="8.4" text-anchor="middle" fill="#222" stroke="#222" stroke-width="0.12" textLength="39.5" lengthAdjust="spacingAndGlyphs">Number of</text>
<text transform="translate(392.50 363.10) rotate(-90) scale(1 1)" y="3.01" font-size="8.4" text-anchor="middle" fill="#222" stroke="#222" stroke-width="0.12" textLength="49.2" lengthAdjust="spacingAndGlyphs">collaborators</text>
<text transform="translate(0.00 450.60) scale(1.05 1)" font-size="11.8" text-anchor="start" fill="#000" font-weight="700" stroke="#000" stroke-width="0.4">c</text>
<text transform="translate(95.80 452.94) scale(1.03 1)" font-size="8.2" text-anchor="middle" fill="#222" stroke="#222" stroke-width="0.12">Number of papers</text>
<text transform="translate(95.80 462.74) scale(1.03 1)" font-size="8.2" text-anchor="middle" fill="#222" stroke="#222" stroke-width="0.12">with overlap</text>
<defs><clipPath id="cb"><circle cx="77.8" cy="501.5" r="22.6"/></clipPath></defs>
<circle cx="77.8" cy="501.5" r="22.6" fill="#91a8e6"/>
<circle cx="102.1" cy="501.5" r="34.7" fill="#fa7b8f"/>
<circle cx="102.1" cy="501.5" r="34.7" fill="#fbebfd" clip-path="url(#cb)"/>
<text transform="translate(42.80 502.02) scale(1 1)" font-size="7.6" text-anchor="middle" fill="#222" stroke="#222" stroke-width="0.12" textLength="14.33" lengthAdjust="spacingAndGlyphs">466</text>
<text transform="translate(42.80 512.52) scale(1 1)" font-size="7.6" text-anchor="middle" fill="#222" stroke="#222" stroke-width="0.12" textLength="17.6" lengthAdjust="spacingAndGlyphs">(11%)</text>
<text transform="translate(83.30 499.92) scale(1 1)" font-size="7.6" text-anchor="middle" fill="#222" stroke="#222" stroke-width="0.12" textLength="17.26" lengthAdjust="spacingAndGlyphs">1,129</text>
<text transform="translate(83.30 509.32) scale(1.03 1)" font-size="7.6" text-anchor="middle" fill="#222" stroke="#222" stroke-width="0.12">(26%)</text>
<text transform="translate(118.30 499.92) scale(1 1)" font-size="7.6" text-anchor="middle" fill="#fff" stroke="#fff" stroke-width="0.12" textLength="20.95" lengthAdjust="spacingAndGlyphs">2,672</text>
<text transform="translate(118.30 509.32) scale(1.03 1)" font-size="7.6" text-anchor="middle" fill="#fff" stroke="#fff" stroke-width="0.12">(63%)</text>
<line x1="40.50" y1="576.30" x2="40.50" y2="659.30" stroke="#7c7c7c" stroke-width="0.9" />
<line x1="40.50" y1="659.30" x2="150.80" y2="659.30" stroke="#7c7c7c" stroke-width="0.9" />
<line x1="37.10" y1="638.40" x2="40.50" y2="638.40" stroke="#7c7c7c" stroke-width="0.9" />
<text transform="translate(33.80 640.91) scale(1 1)" font-size="7" text-anchor="end" fill="#222" stroke="#222" stroke-width="0.12" textLength="4.4" lengthAdjust="spacingAndGlyphs">5</text>
<line x1="37.10" y1="617.00" x2="40.50" y2="617.00" stroke="#7c7c7c" stroke-width="0.9" />
<text transform="translate(33.80 619.51) scale(1 1)" font-size="7" text-anchor="end" fill="#222" stroke="#222" stroke-width="0.12" textLength="7.1" lengthAdjust="spacingAndGlyphs">10</text>
<line x1="37.10" y1="595.60" x2="40.50" y2="595.60" stroke="#7c7c7c" stroke-width="0.9" />
<text transform="translate(33.80 598.11) scale(1 1)" font-size="7" text-anchor="end" fill="#222" stroke="#222" stroke-width="0.12" textLength="7.1" lengthAdjust="spacingAndGlyphs">15</text>
<path d="M68.50 584.60V580.20H123.30V584.60" fill="none" stroke="#6a6a6a" stroke-width="0.8"/>
<text transform="translate(95.90 581.20) scale(0.88 1)" font-size="12" text-anchor="middle" fill="#111" stroke="#111" stroke-width="0.2">***</text>
<line x1="68.50" y1="603.86" x2="68.50" y2="629.54" stroke="#111" stroke-width="1.2" />
<line x1="65.40" y1="603.86" x2="71.60" y2="603.86" stroke="#111" stroke-width="1.2" />
<line x1="68.50" y1="646.66" x2="68.50" y2="655.22" stroke="#111" stroke-width="1.2" />
<line x1="65.40" y1="655.22" x2="71.60" y2="655.22" stroke="#111" stroke-width="1.2" />
<rect x="63.15" y="629.54" width="10.70" height="17.12" fill="#fff" stroke="#9aade9" stroke-width="1.1"/>
<line x1="63.15" y1="638.10" x2="73.85" y2="638.10" stroke="#9aade9" stroke-width="1.1" />
<rect x="65.30" y="631.90" width="6.40" height="6.40" fill="#8ca5e8"/>
<line x1="123.30" y1="591.02" x2="123.30" y2="620.98" stroke="#111" stroke-width="1.2" />
<line x1="120.20" y1="591.02" x2="126.40" y2="591.02" stroke="#111" stroke-width="1.2" />
<line x1="123.30" y1="642.81" x2="123.30" y2="655.22" stroke="#111" stroke-width="1.2" />
<line x1="120.20" y1="655.22" x2="126.40" y2="655.22" stroke="#111" stroke-width="1.2" />
<rect x="117.95" y="620.98" width="10.70" height="21.83" fill="#fff" stroke="#f98699" stroke-width="1.1"/>
<line x1="117.95" y1="633.82" x2="128.65" y2="633.82" stroke="#f98699" stroke-width="1.1" />
<rect x="120.10" y="627.20" width="6.40" height="6.40" fill="#fa7389"/>
<text transform="translate(9.10 618.00) rotate(-90) scale(1 1)" y="3.01" font-size="8.4" text-anchor="middle" fill="#222" stroke="#222" stroke-width="0.12" textLength="72.9" lengthAdjust="spacingAndGlyphs">Number of coauthors</text>
<text transform="translate(17.80 617.30) rotate(-90) scale(1 1)" y="3.01" font-size="8.4" text-anchor="middle" fill="#222" stroke="#222" stroke-width="0.12" textLength="76.5" lengthAdjust="spacingAndGlyphs">on the retracted paper</text>
<rect x="220.40" y="462.80" width="101.31" height="8.15" fill="#8ca5e8"/>
<rect x="220.40" y="470.95" width="104.79" height="8.15" fill="#fa7389"/>
<line x1="217.00" y1="470.95" x2="220.40" y2="470.95" stroke="#7c7c7c" stroke-width="0.9" />
<text transform="translate(325.37 468.86) scale(1 1)" font-size="7.5" text-anchor="start" fill="#000" font-weight="700" stroke="#000" stroke-width="0.25" textLength="15.6" lengthAdjust="spacingAndGlyphs">93.2</text>
<text transform="translate(328.85 477.01) scale(1 1)" font-size="7.5" text-anchor="start" fill="#000" font-weight="700" stroke="#000" stroke-width="0.25" textLength="15.6" lengthAdjust="spacingAndGlyphs">96.4</text>
<text transform="translate(214.20 473.66) scale(1 1)" font-size="7" text-anchor="end" fill="#222" stroke="#222" stroke-width="0.12">Journal</text>
<rect x="220.40" y="486.20" width="3.91" height="8.15" fill="#8ca5e8"/>
<rect x="220.40" y="494.35" width="1.09" height="8.15" fill="#fa7389"/>
<line x1="217.00" y1="494.35" x2="220.40" y2="494.35" stroke="#7c7c7c" stroke-width="0.9" />
<text transform="translate(227.97 492.26) scale(1 1)" font-size="7.5" text-anchor="start" fill="#000" font-weight="700" stroke="#000" stroke-width="0.25" textLength="10.9" lengthAdjust="spacingAndGlyphs">3.6</text>
<text transform="translate(225.15 500.41) scale(1 1)" font-size="7.5" text-anchor="start" fill="#000" font-weight="700" stroke="#000" stroke-width="0.25" textLength="9.6" lengthAdjust="spacingAndGlyphs">1.0</text>
<text transform="translate(214.20 497.06) scale(1 1)" font-size="7" text-anchor="end" fill="#222" stroke="#222" stroke-width="0.12" textLength="36.8" lengthAdjust="spacingAndGlyphs">Conference</text>
<line x1="220.40" y1="504.80" x2="329.10" y2="504.80" stroke="#7c7c7c" stroke-width="0.9" />
<line x1="220.40" y1="504.80" x2="220.40" y2="508.10" stroke="#7c7c7c" stroke-width="0.9" />
<text transform="translate(220.40 516.41) scale(1 1)" font-size="7" text-anchor="middle" fill="#222" stroke="#222" stroke-width="0.12" textLength="4.4" lengthAdjust="spacingAndGlyphs">0</text>
<line x1="242.14" y1="504.80" x2="242.14" y2="508.10" stroke="#7c7c7c" stroke-width="0.9" />
<text transform="translate(242.14 516.41) scale(1 1)" font-size="7" text-anchor="middle" fill="#222" stroke="#222" stroke-width="0.12" textLength="8.8" lengthAdjust="spacingAndGlyphs">20</text>
<line x1="263.88" y1="504.80" x2="263.88" y2="508.10" stroke="#7c7c7c" stroke-width="0.9" />
<text transform="translate(263.88 516.41) scale(1 1)" font-size="7" text-anchor="middle" fill="#222" stroke="#222" stroke-width="0.12" textLength="8.8" lengthAdjust="spacingAndGlyphs">40</text>
<line x1="285.62" y1="504.80" x2="285.62" y2="508.10" stroke="#7c7c7c" stroke-width="0.9" />
<text transform="translate(285.62 516.41) scale(1 1)" font-size="7" text-anchor="middle" fill="#222" stroke="#222" stroke-width="0.12" textLength="8.8" lengthAdjust="spacingAndGlyphs">60</text>
<line x1="307.36" y1="504.80" x2="307.36" y2="508.10" stroke="#7c7c7c" stroke-width="0.9" />
<text transform="translate(307.36 516.41) scale(1 1)" font-size="7" text-anchor="middle" fill="#222" stroke="#222" stroke-width="0.12" textLength="8.8" lengthAdjust="spacingAndGlyphs">80</text>
<line x1="329.10" y1="504.80" x2="329.10" y2="508.10" stroke="#7c7c7c" stroke-width="0.9" />
<text transform="translate(329.10 516.41) scale(1 1)" font-size="7" text-anchor="middle" fill="#222" stroke="#222" stroke-width="0.12" textLength="11.5" lengthAdjust="spacingAndGlyphs">100</text>
<text transform="translate(275.50 529.24) scale(1 1)" font-size="8.5" text-anchor="middle" fill="#222" stroke="#222" stroke-width="0.12" textLength="38.6" lengthAdjust="spacingAndGlyphs">Papers (%)</text>
<text transform="translate(168.00 482.60) rotate(-90) scale(1 1)" y="3.01" font-size="8.4" text-anchor="middle" fill="#222" stroke="#222" stroke-width="0.12" textLength="23.6" lengthAdjust="spacingAndGlyphs">Venue</text>
<rect x="220.40" y="543.60" width="3.84" height="8.15" fill="#8ca5e8"/>
<rect x="220.40" y="551.75" width="2.74" height="8.15" fill="#fa7389"/>
<line x1="217.00" y1="551.75" x2="220.40" y2="551.75" stroke="#7c7c7c" stroke-width="0.9" />
<text transform="translate(228.76 549.66) scale(1 1)" font-size="7.5" text-anchor="start" fill="#000" font-weight="700" stroke="#000" stroke-width="0.25" textLength="10.9" lengthAdjust="spacingAndGlyphs">2.8</text>
<text transform="translate(227.66 557.81) scale(1 1)" font-size="7.5" text-anchor="start" fill="#000" font-weight="700" stroke="#000" stroke-width="0.25" textLength="10.9" lengthAdjust="spacingAndGlyphs">2.0</text>
<text transform="translate(214.20 554.46) scale(1 1)" font-size="7" text-anchor="end" fill="#222" stroke="#222" stroke-width="0.12" textLength="35.3" lengthAdjust="spacingAndGlyphs">1990–1995</text>
<rect x="220.40" y="567.00" width="3.98" height="8.15" fill="#8ca5e8"/>
<rect x="220.40" y="575.15" width="3.98" height="8.15" fill="#fa7389"/>
<line x1="217.00" y1="575.15" x2="220.40" y2="575.15" stroke="#7c7c7c" stroke-width="0.9" />
<text transform="translate(228.89 573.06) scale(1 1)" font-size="7.5" text-anchor="start" fill="#000" font-weight="700" stroke="#000" stroke-width="0.25" textLength="10.9" lengthAdjust="spacingAndGlyphs">2.9</text>
<text transform="translate(228.89 581.21) scale(1 1)" font-size="7.5" text-anchor="start" fill="#000" font-weight="700" stroke="#000" stroke-width="0.25" textLength="10.9" lengthAdjust="spacingAndGlyphs">2.9</text>
<text transform="translate(214.20 577.86) scale(1 1)" font-size="7" text-anchor="end" fill="#222" stroke="#222" stroke-width="0.12" textLength="37.0" lengthAdjust="spacingAndGlyphs">1996–2000</text>
<rect x="220.40" y="590.40" width="7.27" height="8.15" fill="#8ca5e8"/>
<rect x="220.40" y="598.55" width="8.09" height="8.15" fill="#fa7389"/>
<line x1="217.00" y1="598.55" x2="220.40" y2="598.55" stroke="#7c7c7c" stroke-width="0.9" />
<text transform="translate(232.19 596.46) scale(1 1)" font-size="7.5" text-anchor="start" fill="#000" font-weight="700" stroke="#000" stroke-width="0.25" textLength="10.9" lengthAdjust="spacingAndGlyphs">5.3</text>
<text transform="translate(233.01 604.61) scale(1 1)" font-size="7.5" text-anchor="start" fill="#000" font-weight="700" stroke="#000" stroke-width="0.25" textLength="10.9" lengthAdjust="spacingAndGlyphs">5.9</text>
<text transform="translate(214.20 601.26) scale(1 1)" font-size="7" text-anchor="end" fill="#222" stroke="#222" stroke-width="0.12" textLength="37.0" lengthAdjust="spacingAndGlyphs">2001–2005</text>
<rect x="220.40" y="613.80" width="38.28" height="8.15" fill="#8ca5e8"/>
<rect x="220.40" y="621.95" width="35.81" height="8.15" fill="#fa7389"/>
<line x1="217.00" y1="621.95" x2="220.40" y2="621.95" stroke="#7c7c7c" stroke-width="0.9" />
<text transform="translate(263.19 619.86) scale(1 1)" font-size="7.5" text-anchor="start" fill="#000" font-weight="700" stroke="#000" stroke-width="0.25" textLength="15.6" lengthAdjust="spacingAndGlyphs">27.9</text>
<text transform="translate(260.73 628.01) scale(1 1)" font-size="7.5" text-anchor="start" fill="#000" font-weight="700" stroke="#000" stroke-width="0.25" textLength="14.3" lengthAdjust="spacingAndGlyphs">26.1</text>
<text transform="translate(214.20 624.66) scale(1 1)" font-size="7" text-anchor="end" fill="#222" stroke="#222" stroke-width="0.12" textLength="37.0" lengthAdjust="spacingAndGlyphs">2006–2010</text>
<rect x="220.40" y="637.30" width="83.83" height="8.15" fill="#8ca5e8"/>
<rect x="220.40" y="645.45" width="86.57" height="8.15" fill="#fa7389"/>
<line x1="217.00" y1="645.45" x2="220.40" y2="645.45" stroke="#7c7c7c" stroke-width="0.9" />
<text transform="translate(308.75 643.36) scale(1 1)" font-size="7.5" text-anchor="start" fill="#000" font-weight="700" stroke="#000" stroke-width="0.25" textLength="13.0" lengthAdjust="spacingAndGlyphs">61.1</text>
<text transform="translate(311.49 651.51) scale(1 1)" font-size="7.5" text-anchor="start" fill="#000" font-weight="700" stroke="#000" stroke-width="0.25" textLength="14.3" lengthAdjust="spacingAndGlyphs">63.1</text>
<text transform="translate(214.20 648.16) scale(1 1)" font-size="7" text-anchor="end" fill="#222" stroke="#222" stroke-width="0.12" textLength="33.6" lengthAdjust="spacingAndGlyphs">2011–2015</text>
<line x1="220.40" y1="659.10" x2="330.16" y2="659.10" stroke="#7c7c7c" stroke-width="0.9" />
<line x1="220.40" y1="659.10" x2="220.40" y2="662.40" stroke="#7c7c7c" stroke-width="0.9" />
<text transform="translate(220.40 671.21) scale(1 1)" font-size="7" text-anchor="middle" fill="#222" stroke="#222" stroke-width="0.12" textLength="4.4" lengthAdjust="spacingAndGlyphs">0</text>
<line x1="247.84" y1="659.10" x2="247.84" y2="662.40" stroke="#7c7c7c" stroke-width="0.9" />
<text transform="translate(247.84 671.21) scale(1 1)" font-size="7" text-anchor="middle" fill="#222" stroke="#222" stroke-width="0.12" textLength="8.8" lengthAdjust="spacingAndGlyphs">20</text>
<line x1="275.28" y1="659.10" x2="275.28" y2="662.40" stroke="#7c7c7c" stroke-width="0.9" />
<text transform="translate(275.28 671.21) scale(1 1)" font-size="7" text-anchor="middle" fill="#222" stroke="#222" stroke-width="0.12" textLength="8.8" lengthAdjust="spacingAndGlyphs">40</text>
<line x1="302.72" y1="659.10" x2="302.72" y2="662.40" stroke="#7c7c7c" stroke-width="0.9" />
<text transform="translate(302.72 671.21) scale(1 1)" font-size="7" text-anchor="middle" fill="#222" stroke="#222" stroke-width="0.12" textLength="8.8" lengthAdjust="spacingAndGlyphs">60</text>
<line x1="330.16" y1="659.10" x2="330.16" y2="662.40" stroke="#7c7c7c" stroke-width="0.9" />
<text transform="translate(330.16 671.21) scale(1 1)" font-size="7" text-anchor="middle" fill="#222" stroke="#222" stroke-width="0.12" textLength="8.8" lengthAdjust="spacingAndGlyphs">80</text>
<text transform="translate(275.50 683.04) scale(1 1)" font-size="8.5" text-anchor="middle" fill="#222" stroke="#222" stroke-width="0.12" textLength="38.6" lengthAdjust="spacingAndGlyphs">Papers (%)</text>
<text transform="translate(169.20 598.70) rotate(-90) scale(1 1)" y="3.01" font-size="8.4" text-anchor="middle" fill="#222" stroke="#222" stroke-width="0.12" textLength="63.5" lengthAdjust="spacingAndGlyphs">Year of retraction</text>
<rect x="414.20" y="464.50" width="61.15" height="7.10" fill="#8ca5e8"/>
<rect x="414.20" y="471.60" width="63.61" height="7.10" fill="#fa7389"/>
<line x1="410.80" y1="471.60" x2="414.20" y2="471.60" stroke="#7c7c7c" stroke-width="0.9" />
<text transform="translate(483.97 470.04) scale(1 1)" font-size="7.5" text-anchor="start" fill="#000" font-weight="700" stroke="#000" stroke-width="0.25" textLength="15.6" lengthAdjust="spacingAndGlyphs">22.3</text>
<text transform="translate(486.44 477.13) scale(1 1)" font-size="7.5" text-anchor="start" fill="#000" font-weight="700" stroke="#000" stroke-width="0.25" textLength="15.6" lengthAdjust="spacingAndGlyphs">23.2</text>
<text transform="translate(407.50 474.31) scale(1 1)" font-size="7" text-anchor="end" fill="#222" stroke="#222" stroke-width="0.12" textLength="36.9" lengthAdjust="spacingAndGlyphs">Misconduct</text>
<rect x="414.20" y="484.90" width="91.86" height="7.10" fill="#8ca5e8"/>
<rect x="414.20" y="492.00" width="87.47" height="7.10" fill="#fa7389"/>
<line x1="410.80" y1="492.00" x2="414.20" y2="492.00" stroke="#7c7c7c" stroke-width="0.9" />
<text transform="translate(514.68 490.44) scale(1 1)" font-size="7.5" text-anchor="start" fill="#000" font-weight="700" stroke="#000" stroke-width="0.25" textLength="15.6" lengthAdjust="spacingAndGlyphs">33.5</text>
<text transform="translate(510.30 497.53) scale(1 1)" font-size="7.5" text-anchor="start" fill="#000" font-weight="700" stroke="#000" stroke-width="0.25" textLength="14.3" lengthAdjust="spacingAndGlyphs">31.9</text>
<text transform="translate(407.50 494.71) scale(1 1)" font-size="7" text-anchor="end" fill="#222" stroke="#222" stroke-width="0.12">Plagiarism</text>
<rect x="414.20" y="505.30" width="61.97" height="7.10" fill="#8ca5e8"/>
<rect x="414.20" y="512.40" width="69.10" height="7.10" fill="#fa7389"/>
<line x1="410.80" y1="512.40" x2="414.20" y2="512.40" stroke="#7c7c7c" stroke-width="0.9" />
<text transform="translate(484.80 510.84) scale(1 1)" font-size="7.5" text-anchor="start" fill="#000" font-weight="700" stroke="#000" stroke-width="0.25" textLength="15.6" lengthAdjust="spacingAndGlyphs">22.6</text>
<text transform="translate(491.92 517.93) scale(1 1)" font-size="7.5" text-anchor="start" fill="#000" font-weight="700" stroke="#000" stroke-width="0.25" textLength="15.6" lengthAdjust="spacingAndGlyphs">25.2</text>
<text transform="translate(407.50 515.11) scale(1 1)" font-size="7" text-anchor="end" fill="#222" stroke="#222" stroke-width="0.12">Mistake</text>
<rect x="414.20" y="525.60" width="59.23" height="7.10" fill="#8ca5e8"/>
<rect x="414.20" y="532.70" width="54.29" height="7.10" fill="#fa7389"/>
<line x1="410.80" y1="532.70" x2="414.20" y2="532.70" stroke="#7c7c7c" stroke-width="0.9" />
<text transform="translate(482.05 531.13) scale(1 1)" font-size="7.5" text-anchor="start" fill="#000" font-weight="700" stroke="#000" stroke-width="0.25" textLength="14.3" lengthAdjust="spacingAndGlyphs">21.6</text>
<text transform="translate(477.12 538.23) scale(1 1)" font-size="7.5" text-anchor="start" fill="#000" font-weight="700" stroke="#000" stroke-width="0.25" textLength="14.3" lengthAdjust="spacingAndGlyphs">19.8</text>
<text transform="translate(407.50 535.41) scale(1 1)" font-size="7" text-anchor="end" fill="#222" stroke="#222" stroke-width="0.12" textLength="18.2" lengthAdjust="spacingAndGlyphs">Other</text>
<line x1="414.20" y1="543.50" x2="523.88" y2="543.50" stroke="#7c7c7c" stroke-width="0.9" />
<line x1="414.20" y1="543.50" x2="414.20" y2="546.80" stroke="#7c7c7c" stroke-width="0.9" />
<text transform="translate(414.20 555.11) scale(1 1)" font-size="7" text-anchor="middle" fill="#222" stroke="#222" stroke-width="0.12" textLength="4.4" lengthAdjust="spacingAndGlyphs">0</text>
<line x1="441.62" y1="543.50" x2="441.62" y2="546.80" stroke="#7c7c7c" stroke-width="0.9" />
<text transform="translate(441.62 555.11) scale(1 1)" font-size="7" text-anchor="middle" fill="#222" stroke="#222" stroke-width="0.12" textLength="7.1" lengthAdjust="spacingAndGlyphs">10</text>
<line x1="469.04" y1="543.50" x2="469.04" y2="546.80" stroke="#7c7c7c" stroke-width="0.9" />
<text transform="translate(469.04 555.11) scale(1 1)" font-size="7" text-anchor="middle" fill="#222" stroke="#222" stroke-width="0.12" textLength="8.8" lengthAdjust="spacingAndGlyphs">20</text>
<line x1="496.46" y1="543.50" x2="496.46" y2="546.80" stroke="#7c7c7c" stroke-width="0.9" />
<text transform="translate(496.46 555.11) scale(1 1)" font-size="7" text-anchor="middle" fill="#222" stroke="#222" stroke-width="0.12" textLength="8.8" lengthAdjust="spacingAndGlyphs">30</text>
<line x1="523.88" y1="543.50" x2="523.88" y2="546.80" stroke="#7c7c7c" stroke-width="0.9" />
<text transform="translate(523.88 555.11) scale(1 1)" font-size="7" text-anchor="middle" fill="#222" stroke="#222" stroke-width="0.12" textLength="8.8" lengthAdjust="spacingAndGlyphs">40</text>
<text transform="translate(467.50 566.84) scale(1 1)" font-size="8.5" text-anchor="middle" fill="#222" stroke="#222" stroke-width="0.12" textLength="38.6" lengthAdjust="spacingAndGlyphs">Papers (%)</text>
<text transform="translate(362.90 500.70) rotate(-90) scale(1 1)" y="3.01" font-size="8.4" text-anchor="middle" fill="#222" stroke="#222" stroke-width="0.12" textLength="78.2" lengthAdjust="spacingAndGlyphs">Reason for retraction</text>
<rect x="414.20" y="580.20" width="76.41" height="5.75" fill="#8ca5e8"/>
<rect x="414.20" y="585.95" width="88.84" height="5.75" fill="#fa7389"/>
<line x1="410.80" y1="585.95" x2="414.20" y2="585.95" stroke="#7c7c7c" stroke-width="0.9" />
<text transform="translate(496.49 585.06) scale(1 1)" font-size="7.5" text-anchor="start" fill="#000" font-weight="700" stroke="#000" stroke-width="0.25" textLength="14.3" lengthAdjust="spacingAndGlyphs">41.8</text>
<text transform="translate(508.92 590.81) scale(1 1)" font-size="7.5" text-anchor="start" fill="#000" font-weight="700" stroke="#000" stroke-width="0.25" textLength="15.6" lengthAdjust="spacingAndGlyphs">48.6</text>
<text transform="translate(407.60 588.66) scale(1 1)" font-size="7" text-anchor="end" fill="#222" stroke="#222" stroke-width="0.12" textLength="7.9" lengthAdjust="spacingAndGlyphs">Q1</text>
<rect x="414.20" y="596.30" width="32.17" height="5.75" fill="#8ca5e8"/>
<rect x="414.20" y="602.05" width="27.24" height="5.75" fill="#fa7389"/>
<line x1="410.80" y1="602.05" x2="414.20" y2="602.05" stroke="#7c7c7c" stroke-width="0.9" />
<text transform="translate(452.26 601.16) scale(1 1)" font-size="7.5" text-anchor="start" fill="#000" font-weight="700" stroke="#000" stroke-width="0.25" textLength="14.3" lengthAdjust="spacingAndGlyphs">17.6</text>
<text transform="translate(447.32 606.91) scale(1 1)" font-size="7.5" text-anchor="start" fill="#000" font-weight="700" stroke="#000" stroke-width="0.25" textLength="14.3" lengthAdjust="spacingAndGlyphs">14.9</text>
<text transform="translate(407.60 604.76) scale(1 1)" font-size="7" text-anchor="end" fill="#222" stroke="#222" stroke-width="0.12">Q2</text>
<rect x="414.20" y="612.40" width="12.25" height="5.75" fill="#8ca5e8"/>
<rect x="414.20" y="618.15" width="9.87" height="5.75" fill="#fa7389"/>
<line x1="410.80" y1="618.15" x2="414.20" y2="618.15" stroke="#7c7c7c" stroke-width="0.9" />
<text transform="translate(432.33 617.26) scale(1 1)" font-size="7.5" text-anchor="start" fill="#000" font-weight="700" stroke="#000" stroke-width="0.25" textLength="10.9" lengthAdjust="spacingAndGlyphs">6.7</text>
<text transform="translate(429.96 623.01) scale(1 1)" font-size="7.5" text-anchor="start" fill="#000" font-weight="700" stroke="#000" stroke-width="0.25" textLength="10.9" lengthAdjust="spacingAndGlyphs">5.4</text>
<text transform="translate(407.60 620.86) scale(1 1)" font-size="7" text-anchor="end" fill="#222" stroke="#222" stroke-width="0.12">Q3</text>
<rect x="414.20" y="628.40" width="2.01" height="5.75" fill="#8ca5e8"/>
<rect x="414.20" y="634.15" width="1.83" height="5.75" fill="#fa7389"/>
<line x1="410.80" y1="634.15" x2="414.20" y2="634.15" stroke="#7c7c7c" stroke-width="0.9" />
<text transform="translate(422.09 633.26) scale(1 1)" font-size="7.5" text-anchor="start" fill="#000" font-weight="700" stroke="#000" stroke-width="0.25" textLength="8.3" lengthAdjust="spacingAndGlyphs">1.1</text>
<text transform="translate(421.91 639.01) scale(1 1)" font-size="7.5" text-anchor="start" fill="#000" font-weight="700" stroke="#000" stroke-width="0.25" textLength="9.6" lengthAdjust="spacingAndGlyphs">1.0</text>
<text transform="translate(407.60 636.86) scale(1 1)" font-size="7" text-anchor="end" fill="#222" stroke="#222" stroke-width="0.12">Q4</text>
<rect x="414.20" y="644.40" width="60.14" height="5.75" fill="#8ca5e8"/>
<rect x="414.20" y="650.15" width="55.02" height="5.75" fill="#fa7389"/>
<line x1="410.80" y1="650.15" x2="414.20" y2="650.15" stroke="#7c7c7c" stroke-width="0.9" />
<text transform="translate(480.23 649.26) scale(1 1)" font-size="7.5" text-anchor="start" fill="#000" font-weight="700" stroke="#000" stroke-width="0.25" textLength="15.6" lengthAdjust="spacingAndGlyphs">32.9</text>
<text transform="translate(475.11 655.01) scale(1 1)" font-size="7.5" text-anchor="start" fill="#000" font-weight="700" stroke="#000" stroke-width="0.25" textLength="14.3" lengthAdjust="spacingAndGlyphs">30.1</text>
<text transform="translate(407.60 652.86) scale(1 1)" font-size="7" text-anchor="end" fill="#222" stroke="#222" stroke-width="0.12">NA</text>
<line x1="414.20" y1="659.10" x2="523.88" y2="659.10" stroke="#7c7c7c" stroke-width="0.9" />
<line x1="414.20" y1="659.10" x2="414.20" y2="662.40" stroke="#7c7c7c" stroke-width="0.9" />
<text transform="translate(414.20 671.21) scale(1 1)" font-size="7" text-anchor="middle" fill="#222" stroke="#222" stroke-width="0.12" textLength="4.4" lengthAdjust="spacingAndGlyphs">0</text>
<line x1="450.76" y1="659.10" x2="450.76" y2="662.40" stroke="#7c7c7c" stroke-width="0.9" />
<text transform="translate(450.76 671.21) scale(1 1)" font-size="7" text-anchor="middle" fill="#222" stroke="#222" stroke-width="0.12" textLength="8.8" lengthAdjust="spacingAndGlyphs">20</text>
<line x1="487.32" y1="659.10" x2="487.32" y2="662.40" stroke="#7c7c7c" stroke-width="0.9" />
<text transform="translate(487.32 671.21) scale(1 1)" font-size="7" text-anchor="middle" fill="#222" stroke="#222" stroke-width="0.12" textLength="8.8" lengthAdjust="spacingAndGlyphs">40</text>
<line x1="523.88" y1="659.10" x2="523.88" y2="662.40" stroke="#7c7c7c" stroke-width="0.9" />
<text transform="translate(523.88 671.21) scale(1 1)" font-size="7" text-anchor="middle" fill="#222" stroke="#222" stroke-width="0.12" textLength="8.8" lengthAdjust="spacingAndGlyphs">60</text>
<text transform="translate(468.90 683.04) scale(1 1)" font-size="8.5" text-anchor="middle" fill="#222" stroke="#222" stroke-width="0.12" textLength="38.6" lengthAdjust="spacingAndGlyphs">Papers (%)</text>
<text transform="translate(377.70 617.30) rotate(-90) scale(1 1)" y="3.01" font-size="8.4" text-anchor="middle" fill="#222" stroke="#222" stroke-width="0.12" textLength="81.3" lengthAdjust="spacingAndGlyphs">Journal or conference</text>
<text transform="translate(387.30 617.70) rotate(-90) scale(1 1)" y="3.01" font-size="8.4" text-anchor="middle" fill="#222" stroke="#222" stroke-width="0.12" textLength="28.0" lengthAdjust="spacingAndGlyphs">ranking</text>
</svg>
</body></html>
